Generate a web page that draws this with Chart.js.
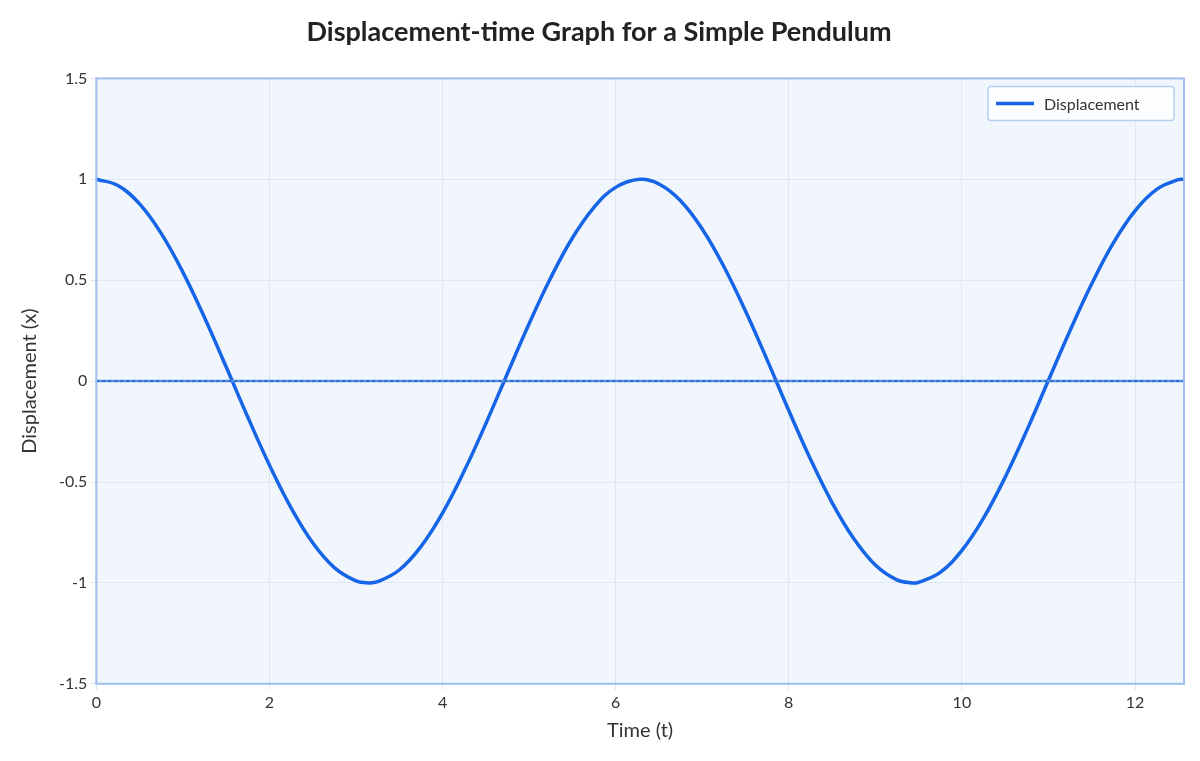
<!DOCTYPE html>
<html><head><meta charset="utf-8">
<script src="https://cdn.jsdelivr.net/npm/chart.js@4/dist/chart.umd.min.js"></script>
<style>html,body{margin:0;padding:0;background:#fff}#wrap{width:1200px;height:761px}</style>
</head><body><div id="wrap"><canvas id="c" width="1200" height="761"></canvas></div>
<script>
const times = [0,0.25,0.5,0.75,1,1.25,1.5,1.75,2,2.25,2.5,2.75,3,3.14,3.25,3.5,3.75,4,4.25,4.5,4.75,5,5.25,5.5,5.75,6,6.28,6.5,6.75,7,7.25,7.5,7.75,8,8.25,8.5,8.75,9,9.25,9.42,9.5,9.75,10,10.25,10.5,10.75,11,11.25,11.5,11.75,12,12.25,12.5,12.566];
const displacement = [1,0.969,0.878,0.732,0.540,0.315,0.071,-0.178,-0.416,-0.628,-0.801,-0.924,-0.990,-1,-0.994,-0.936,-0.820,-0.654,-0.446,-0.211,0.038,0.284,0.512,0.709,0.861,0.960,1,0.977,0.894,0.754,0.568,0.347,0.105,-0.146,-0.386,-0.602,-0.780,-0.911,-0.985,-1,-0.997,-0.948,-0.839,-0.679,-0.476,-0.244,0.004,0.251,0.482,0.685,0.844,0.950,0.998,1];
const xTicks = [0,2,4,6,8,10,12];
const seriesLabel = 'Displacement';
const FONT = 'Lato, "Open Sans", sans-serif';
const bgPlugin = {
  id:'bg',
  beforeDraw(ch){const {ctx,chartArea:a}=ch;ctx.save();ctx.fillStyle='#f1f6fd';ctx.fillRect(a.left,a.top,a.right-a.left,a.bottom-a.top);ctx.restore();},
  afterDatasetsDraw(ch){
    const {ctx,chartArea:a,scales}=ch;const y=scales.y.getPixelForValue(0);
    ctx.save();ctx.strokeStyle='#5b92e6';ctx.lineWidth=2.5;ctx.beginPath();ctx.moveTo(a.left,y);ctx.lineTo(a.right,y);ctx.stroke();
    ctx.strokeStyle='#1a5fd0';ctx.lineWidth=1.5;ctx.setLineDash([3,3]);ctx.beginPath();ctx.moveTo(a.left,y);ctx.lineTo(a.right,y);ctx.stroke();
    ctx.setLineDash([]);ctx.strokeStyle='#9cbff0';ctx.lineWidth=2;ctx.strokeRect(a.left,a.top,a.right-a.left,a.bottom-a.top);
    ctx.fillStyle='rgba(255,255,255,0.85)';ctx.strokeStyle='#b5cff3';ctx.lineWidth=1.5;
    const lx=a.right-196, ly=a.top+8;ctx.beginPath();ctx.roundRect(lx,ly,186,34,3);ctx.fill();ctx.stroke();
    ctx.strokeStyle='#1565e6';ctx.lineWidth=3.5;ctx.beginPath();ctx.moveTo(lx+8,ly+17);ctx.lineTo(lx+46,ly+17);ctx.stroke();
    ctx.fillStyle='#333';ctx.font='16px '+FONT;ctx.textBaseline='middle';ctx.fillText(seriesLabel,lx+56,ly+18);
    ctx.restore();
  }
};
new Chart(document.getElementById('c'),{
  type:'line',
  data:{datasets:[{label:seriesLabel,data:times.map((t,i)=>({x:t,y:displacement[i]})),borderColor:'#1565e6',borderWidth:3.5,pointRadius:0,tension:0.4,fill:false}]},
  options:{responsive:false,animation:false,
    layout:{padding:{left:14,right:16,top:4,bottom:14}},
    plugins:{legend:{display:false},tooltip:{enabled:false},
      title:{display:true,text:'Displacement-time Graph for a Simple Pendulum',color:'#222',font:{family:FONT,size:27,weight:'bold'},padding:{top:12,bottom:30}}},
    scales:{
      x:{type:'linear',min:0,max:12.566,
        afterBuildTicks:s=>{s.ticks=xTicks.map(v=>({value:v}));},
        ticks:{color:'#333',font:{family:FONT,size:16},callback:v=>String(v)},
        grid:{color:'#dde6f3',lineWidth:1,tickLength:6},border:{display:false},
        title:{display:true,text:'Time (t)',color:'#333',font:{family:FONT,size:20}}},
      y:{min:-1.5,max:1.5,ticks:{stepSize:0.5,color:'#333',font:{family:FONT,size:16},callback:v=>String(v)},
        grid:{color:'#dde6f3',tickLength:6},border:{display:false},
        title:{display:true,text:'Displacement (x)',color:'#333',font:{family:FONT,size:20},padding:{bottom:14}}}
    }
  },
  plugins:[bgPlugin]
});
</script></body></html>
